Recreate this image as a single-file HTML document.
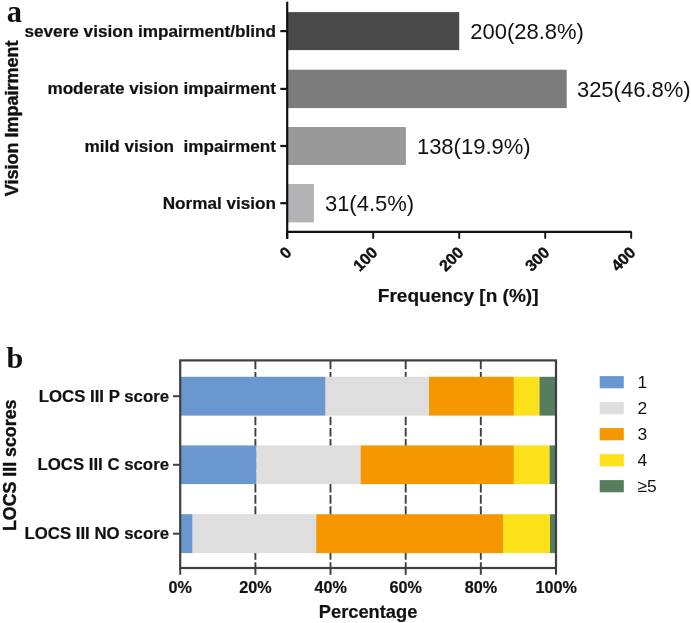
<!DOCTYPE html>
<html lang="en"><head><meta charset="utf-8"><title>Figure</title>
<style>html,body{margin:0;padding:0;background:#fff}svg{display:block}text{font-family:"Liberation Sans",Arial,sans-serif;fill:#111}.b{font-weight:bold;stroke:#111;stroke-width:.2px}.r{stroke-width:.4px}.s{font-family:"Liberation Serif","Times New Roman",serif;font-weight:bold}</style></head><body>
<svg width="691" height="623" viewBox="0 0 691 623">
<rect width="691" height="623" fill="#fff"/>
<rect x="287.2" y="12.1" width="172.0" height="38.0" fill="#4b4a4a"/>
<line x1="280.3" y1="31.1" x2="287.2" y2="31.1" stroke="#111" stroke-width="2.2"/>
<text x="470.2" y="39.3" font-size="22">200(28.8%)</text>
<text class="b" x="276" y="37.0" font-size="17.15" text-anchor="end" xml:space="preserve">severe vision impairment/blind</text>
<rect x="287.2" y="69.7" width="279.5" height="38.4" fill="#7c7c7c"/>
<line x1="280.3" y1="88.9" x2="287.2" y2="88.9" stroke="#111" stroke-width="2.2"/>
<text x="576.9" y="97.1" font-size="22">325(46.8%)</text>
<text class="b" x="276" y="94.3" font-size="17.15" text-anchor="end" xml:space="preserve">moderate vision impairment</text>
<rect x="287.2" y="127" width="118.7" height="38.0" fill="#999999"/>
<line x1="280.3" y1="146.0" x2="287.2" y2="146.0" stroke="#111" stroke-width="2.2"/>
<text x="416.9" y="154.2" font-size="22">138(19.9%)</text>
<text class="b" x="276" y="151.9" font-size="17.15" text-anchor="end" xml:space="preserve">mild vision  impairment</text>
<rect x="287.2" y="184" width="26.7" height="38.4" fill="#b3b3b5"/>
<line x1="280.3" y1="203.2" x2="287.2" y2="203.2" stroke="#111" stroke-width="2.2"/>
<text x="324.9" y="211.4" font-size="22">31(4.5%)</text>
<text class="b" x="276" y="209.1" font-size="17.15" text-anchor="end" xml:space="preserve">Normal vision</text>
<line x1="287.2" y1="1.7" x2="287.2" y2="239" stroke="#111" stroke-width="2.2"/>
<line x1="286.09999999999997" y1="231.9" x2="631.7" y2="231.9" stroke="#111" stroke-width="2.2"/>
<line x1="287.2" y1="231.9" x2="287.2" y2="238.7" stroke="#111" stroke-width="1.9"/>
<text class="b r" font-size="15.9" text-anchor="end" transform="translate(292.6,253.4) rotate(-45)">0</text>
<line x1="373.2" y1="231.9" x2="373.2" y2="238.7" stroke="#111" stroke-width="1.9"/>
<text class="b r" font-size="15.9" text-anchor="end" transform="translate(378.6,253.4) rotate(-45)">100</text>
<line x1="459.2" y1="231.9" x2="459.2" y2="238.7" stroke="#111" stroke-width="1.9"/>
<text class="b r" font-size="15.9" text-anchor="end" transform="translate(464.6,253.4) rotate(-45)">200</text>
<line x1="545.2" y1="231.9" x2="545.2" y2="238.7" stroke="#111" stroke-width="1.9"/>
<text class="b r" font-size="15.9" text-anchor="end" transform="translate(550.6,253.4) rotate(-45)">300</text>
<line x1="631.2" y1="231.9" x2="631.2" y2="238.7" stroke="#111" stroke-width="1.9"/>
<text class="b r" font-size="15.9" text-anchor="end" transform="translate(636.6,253.4) rotate(-45)">400</text>
<text class="b" x="377.8" y="302.3" font-size="19.05">Frequency [n (%)]</text>
<text class="b r" font-size="18" text-anchor="middle" transform="translate(18.3,118.3) rotate(-90)">Vision Impairment</text>
<text class="s" x="6.8" y="21.5" font-size="30.5">a</text>
<line x1="255.4" y1="360.7" x2="255.4" y2="568" stroke="#404040" stroke-width="1.9" stroke-dasharray="8.6 2.6"/>
<line x1="330.5" y1="360.7" x2="330.5" y2="568" stroke="#404040" stroke-width="1.9" stroke-dasharray="8.6 2.6"/>
<line x1="405.7" y1="360.7" x2="405.7" y2="568" stroke="#404040" stroke-width="1.9" stroke-dasharray="8.6 2.6"/>
<line x1="480.8" y1="360.7" x2="480.8" y2="568" stroke="#404040" stroke-width="1.9" stroke-dasharray="8.6 2.6"/>
<rect x="180.2" y="376.8" width="145.4" height="38.8" fill="#6b97d0"/>
<rect x="325.6" y="376.8" width="103.3" height="38.8" fill="#dedede"/>
<rect x="429.0" y="376.8" width="84.9" height="38.8" fill="#f59700"/>
<rect x="513.9" y="376.8" width="25.6" height="38.8" fill="#fde21b"/>
<rect x="539.5" y="376.8" width="16.5" height="38.8" fill="#567d5c"/>
<line x1="173" y1="396.2" x2="180.2" y2="396.2" stroke="#404040" stroke-width="2"/>
<text class="b" x="169" y="401.6" font-size="16.8" text-anchor="end">LOCS III P score</text>
<rect x="180.2" y="445.4" width="76.3" height="38.7" fill="#6b97d0"/>
<rect x="256.5" y="445.4" width="104.1" height="38.7" fill="#dedede"/>
<rect x="360.6" y="445.4" width="153.3" height="38.7" fill="#f59700"/>
<rect x="513.9" y="445.4" width="35.7" height="38.7" fill="#fde21b"/>
<rect x="549.6" y="445.4" width="6.4" height="38.7" fill="#567d5c"/>
<line x1="173" y1="464.8" x2="180.2" y2="464.8" stroke="#404040" stroke-width="2"/>
<text class="b" x="169" y="470.1" font-size="16.8" text-anchor="end">LOCS III C score</text>
<rect x="180.2" y="514.2" width="12.4" height="38.9" fill="#6b97d0"/>
<rect x="192.6" y="514.2" width="123.6" height="38.9" fill="#dedede"/>
<rect x="316.2" y="514.2" width="186.8" height="38.9" fill="#f59700"/>
<rect x="503.0" y="514.2" width="47.0" height="38.9" fill="#fde21b"/>
<rect x="550.0" y="514.2" width="6.0" height="38.9" fill="#567d5c"/>
<line x1="173" y1="533.7" x2="180.2" y2="533.7" stroke="#404040" stroke-width="2"/>
<text class="b" x="169" y="539.1" font-size="16.8" text-anchor="end">LOCS III NO score</text>
<rect x="180.2" y="360.4" width="375.8" height="207.60000000000002" fill="none" stroke="#404040" stroke-width="2.2"/>
<line x1="180.2" y1="568" x2="180.2" y2="574.8" stroke="#404040" stroke-width="2"/>
<text class="b" x="180.3" y="593.2" font-size="16.2" text-anchor="middle">0%</text>
<line x1="255.4" y1="568" x2="255.4" y2="574.8" stroke="#404040" stroke-width="2"/>
<text class="b" x="255.5" y="593.2" font-size="16.2" text-anchor="middle">20%</text>
<line x1="330.5" y1="568" x2="330.5" y2="574.8" stroke="#404040" stroke-width="2"/>
<text class="b" x="330.6" y="593.2" font-size="16.2" text-anchor="middle">40%</text>
<line x1="405.7" y1="568" x2="405.7" y2="574.8" stroke="#404040" stroke-width="2"/>
<text class="b" x="405.8" y="593.2" font-size="16.2" text-anchor="middle">60%</text>
<line x1="480.8" y1="568" x2="480.8" y2="574.8" stroke="#404040" stroke-width="2"/>
<text class="b" x="480.9" y="593.2" font-size="16.2" text-anchor="middle">80%</text>
<line x1="556.0" y1="568" x2="556.0" y2="574.8" stroke="#404040" stroke-width="2"/>
<text class="b" x="556.1" y="593.2" font-size="16.2" text-anchor="middle">100%</text>
<text class="b" x="368.1" y="617.5" font-size="18.3" text-anchor="middle">Percentage</text>
<text class="b r" font-size="17.8" text-anchor="middle" transform="translate(15.5,465.3) rotate(-90)">LOCS III scores</text>
<text class="s" x="6.6" y="368.1" font-size="30">b</text>
<rect x="599.7" y="376.1" width="24.1" height="12.2" fill="#6b97d0"/>
<text x="637.5" y="388.3" font-size="17.4">1</text>
<rect x="599.7" y="402.1" width="24.1" height="12.2" fill="#dedede"/>
<text x="637.5" y="414.3" font-size="17.4">2</text>
<rect x="599.7" y="428.1" width="24.1" height="12.2" fill="#f59700"/>
<text x="637.5" y="440.3" font-size="17.4">3</text>
<rect x="599.7" y="454.1" width="24.1" height="12.2" fill="#fde21b"/>
<text x="637.5" y="466.3" font-size="17.4">4</text>
<rect x="599.7" y="480.1" width="24.1" height="12.2" fill="#567d5c"/>
<text x="637.5" y="492.3" font-size="17.4">≥5</text>
</svg></body></html>
